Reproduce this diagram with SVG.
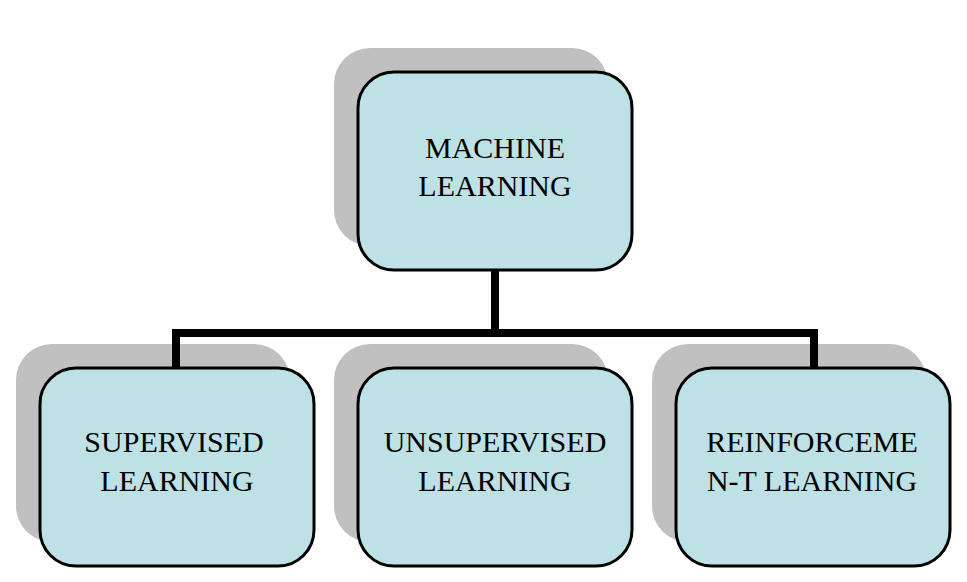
<svg xmlns="http://www.w3.org/2000/svg" width="967" height="582" viewBox="0 0 967 582">
<style>
.sh{fill:#c0c0c0}
.bx{fill:#bde1e4;stroke:#000;stroke-width:3}
.t{font-family:"Liberation Serif",serif;font-size:30px;fill:#000;text-anchor:middle}
.c{stroke:#000;stroke-width:8;fill:none}
</style>
<rect width="967" height="582" fill="#fff"/>
<g id="shadows">
<rect class="sh" x="334" y="48" width="274" height="198" rx="36"/>
<rect class="sh" x="16" y="344" width="274" height="198" rx="36"/>
<rect class="sh" x="334" y="344" width="274" height="198" rx="36"/>
<rect class="sh" x="652" y="344" width="274" height="198" rx="36"/>
</g>
<g id="connectors">
<path class="c" d="M495 270V333M176 370V333H814V370"/>
</g>
<g id="ml"><rect class="bx" x="358" y="72" width="274" height="198" rx="36"/>
<text class="t" x="495" y="158">MACHINE</text><text class="t" x="495" y="196">LEARNING</text></g>
<g id="sup"><rect class="bx" x="40" y="368" width="274" height="198" rx="36"/>
<text class="t" x="174" y="452">SUPERVISED</text><text class="t" x="177" y="491">LEARNING</text></g>
<g id="unsup"><rect class="bx" x="358" y="368" width="274" height="198" rx="36"/>
<text class="t" x="495" y="452">UNSUPERVISED</text><text class="t" x="495" y="491">LEARNING</text></g>
<g id="rl"><rect class="bx" x="676" y="368" width="274" height="198" rx="36"/>
<text class="t" x="812" y="452">REINFORCEME</text><text class="t" x="812" y="491">N-T LEARNING</text></g>
</svg>
